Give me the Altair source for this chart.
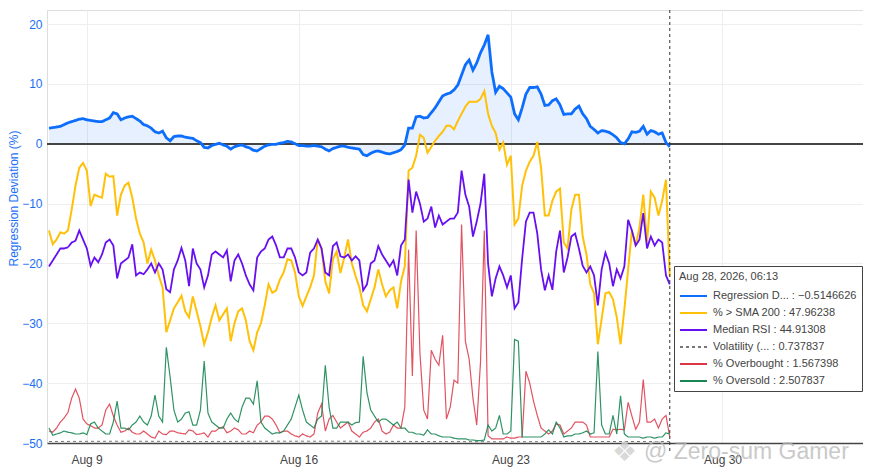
import altair as alt
import pandas as pd

# ---------------- data (plotted positions, every 3 h) ----------------
END = "2026-08-28 06:13"
N = 165
times = pd.date_range(end=END, periods=N, freq="3h")

regression_dev = [
    2.6, 2.7, 2.8, 2.9, 3.2, 3.5, 3.7, 3.9, 4.1, 4.2,
    4.0, 3.9, 3.8, 3.7, 3.7, 4.0, 4.3, 5.2, 5.0, 4.0,
    4.3, 4.5, 4.6, 4.2, 3.8, 3.2, 3.0, 2.6, 2.0, 1.8,
    2.1, 1.0, 0.5, 1.2, 1.3, 1.3, 1.1, 1.0, 0.9, 0.5,
    0.2, -0.6, -0.7, -0.3, -0.1, 0.1, -0.2, -0.4, -0.9, -0.5,
    -0.3, -0.2, -0.5, -0.7, -1.1, -1.2, -0.8, -0.4, -0.2, -0.1,
    -0.1, 0.1, 0.2, 0.4, 0.3, 0.0, -0.3, -0.3, -0.4, -0.4,
    -0.3, -0.4, -0.5, -0.9, -1.2, -0.8, -0.6, -0.4, -0.4, -0.6,
    -0.7, -0.8, -0.9, -1.8, -2.0, -1.6, -1.3, -1.2, -1.4, -1.6,
    -1.7, -1.5, -1.3, -1.0, -0.2, 2.6, 2.6, 4.5, 4.6, 4.3,
    4.4, 5.2, 6.0, 7.0, 8.0, 8.3, 8.5, 9.0, 9.8, 11.5,
    13.2, 14.0, 12.3, 13.5, 15.2, 16.5, 18.2, 12.0, 8.6, 9.6,
    9.2, 8.5, 7.8, 5.0, 4.0, 6.0, 8.3, 9.4, 9.4, 9.5,
    8.3, 6.4, 6.5, 7.2, 7.5, 6.5, 4.9, 5.0, 5.0, 5.8,
    6.3, 5.0, 4.2, 2.9, 2.4, 1.8, 2.2, 2.1, 1.9, 1.5,
    1.0, 0.2, 0.0, 0.8, 2.0, 1.9, 2.1, 2.9, 1.6, 2.2,
    2.0, 1.6, 1.8, 0.2, -0.51,
]

pct_above_sma200 = [
    -14.5, -16.8, -16.0, -14.8, -15.0, -14.5, -11.0, -7.0, -4.0, -3.2,
    -4.5, -10.4, -8.5, -8.8, -9.0, -5.0, -5.5, -5.4, -12.0, -8.5,
    -7.0, -6.5, -9.0, -12.5, -15.0, -16.5, -20.0, -17.7, -19.5, -22.0,
    -24.0, -31.5, -29.5, -27.5, -26.5, -25.4, -28.0, -29.0, -25.5, -28.0,
    -30.5, -33.5, -31.5, -29.0, -27.0, -29.5, -28.5, -27.5, -33.0, -30.0,
    -28.0, -27.5, -29.5, -33.0, -34.5, -31.5, -30.0, -27.0, -23.5, -24.9,
    -24.5, -22.7, -21.5, -19.3, -19.5, -21.5, -25.5, -27.1, -25.5, -24.0,
    -22.0, -16.0, -17.5, -23.0, -25.0, -19.3, -18.0, -21.6, -19.0, -16.0,
    -20.0, -22.1, -24.0, -27.0, -28.0, -26.0, -24.0, -21.0, -23.5, -25.5,
    -24.5, -24.0, -27.5, -23.0, -20.5, -4.5, -4.0, -2.0, 1.5, 1.0,
    -1.5, -0.5, 0.5, 1.3, 2.0, 3.0, 3.0, 2.4, 3.8, 5.0,
    6.2, 7.0, 7.0, 7.0, 7.5, 8.8, 5.0, 3.0, 1.8, -1.0,
    0.2, -3.5, -2.0, -13.5, -12.5, -7.0, -4.5, -3.0, -2.0, 0.3,
    -4.0, -12.0, -12.0, -9.5, -8.0, -7.5, -16.5, -17.5, -11.0, -8.5,
    -8.5, -15.5, -18.5, -23.5, -25.0, -33.5, -29.3, -25.0, -24.8, -26.0,
    -29.0, -33.5, -27.7, -21.0, -14.5, -17.0, -14.0, -8.5, -16.5, -8.0,
    -9.0, -12.0, -9.5, -6.0, -22.2,
]

median_rsi = [
    -20.5, -19.5, -18.5, -17.5, -17.5, -17.3, -16.5, -16.2, -14.5, -16.0,
    -17.5, -20.4, -19.0, -19.8, -18.5, -16.5, -16.0, -17.0, -22.5, -20.0,
    -19.5, -19.0, -16.8, -22.0, -21.5, -21.8, -21.0, -20.0, -21.5, -20.0,
    -21.0, -24.3, -24.8, -21.0, -19.5, -17.4, -19.5, -23.8, -17.5, -20.0,
    -21.0, -24.0, -22.0, -18.5, -18.0, -18.5, -19.0, -17.8, -23.0, -19.5,
    -18.5, -20.0, -22.0, -23.5, -24.5, -19.0, -18.0, -17.5, -16.0, -15.5,
    -17.0, -19.0, -19.0, -17.5, -17.5, -19.0, -21.5, -22.0, -21.5, -18.2,
    -17.5, -16.0, -17.5, -21.5, -22.0, -17.1, -16.5, -18.8, -19.0, -18.5,
    -19.5, -18.8, -19.5, -24.5, -23.5, -20.0, -19.5, -17.1, -18.5, -19.5,
    -20.5, -19.5, -22.0, -17.0, -16.0, -6.0, -11.5, -8.0, -10.0, -13.0,
    -12.5, -10.5, -14.0, -12.0, -13.5, -13.0, -12.5, -12.5, -11.5, -4.5,
    -8.5, -10.5, -15.5, -13.0, -10.0, -5.0, -20.0, -25.5, -22.5, -20.5,
    -22.0, -24.0, -22.0, -27.5, -26.5, -19.2, -13.0, -11.5, -11.5, -15.0,
    -21.0, -24.5, -22.0, -24.4, -18.0, -14.5, -21.5, -19.0, -15.5, -15.0,
    -17.5, -20.4, -21.5, -20.5, -22.0, -27.0, -21.0, -18.2, -20.0, -23.8,
    -21.0, -22.5, -20.5, -12.7, -14.5, -17.0, -16.0, -11.6, -17.5, -15.5,
    -17.0, -16.0, -16.5, -22.0, -23.5,
]

pct_overbought = [
    -48.0, -48.2, -47.5, -46.5, -45.8, -44.9, -42.5, -41.0, -42.5, -46.0,
    -46.8, -47.1, -47.5, -47.5, -47.0, -44.5, -43.5, -45.5, -47.0, -48.2,
    -48.0, -47.5, -48.2, -48.5, -48.5, -48.0, -48.5, -49.0, -49.2, -48.0,
    -48.5, -48.6, -48.0, -48.0, -48.3, -48.4, -48.5, -47.8, -48.0, -48.6,
    -48.5, -48.3, -49.0, -48.0, -48.0, -47.5, -47.3, -48.3, -48.0, -47.5,
    -47.8, -48.5, -48.5, -48.0, -48.3, -47.0, -46.5, -45.5, -45.5, -46.0,
    -47.0, -48.3, -48.0, -48.0, -48.5, -48.8, -49.0, -48.5, -48.8, -49.0,
    -48.5, -45.0, -43.5, -48.0, -46.0, -45.4, -46.5, -47.5, -47.0, -46.5,
    -48.0, -48.5, -49.0, -48.2, -48.0, -47.5, -46.5, -46.0, -48.0, -48.5,
    -48.2, -47.0, -47.5, -47.5, -44.0, -17.7, -38.8, -14.5, -35.0, -44.5,
    -46.0, -34.5, -36.0, -37.0, -32.0, -46.0, -44.0, -39.5, -40.0, -13.5,
    -33.0, -36.0, -42.5, -47.0, -36.5, -14.5, -48.8, -49.3, -49.3, -49.3,
    -49.3, -49.0, -49.2, -49.2, -49.0, -49.0, -38.0, -40.0, -43.0, -45.4,
    -47.5, -48.0, -48.5, -48.0, -46.8, -47.0, -48.5, -48.0, -47.5, -46.5,
    -46.5, -46.5, -47.0, -49.0, -49.0, -49.0, -49.0, -49.0, -49.0, -47.7,
    -47.8, -47.7, -47.8, -43.2, -45.5, -47.7, -46.5, -39.4, -46.5, -46.5,
    -46.0, -47.5, -46.0, -45.4, -49.0,
]

pct_oversold = [
    -47.5, -48.7, -48.5, -48.3, -48.0, -48.2, -48.3, -48.5, -48.5, -48.3,
    -48.6, -46.8, -46.5, -47.5, -48.0, -48.5, -48.5, -46.5, -43.0, -47.5,
    -47.5, -47.8, -47.0, -46.5, -45.5, -46.5, -47.0, -45.5, -42.0, -45.5,
    -46.5, -34.0, -39.0, -44.5, -46.5, -46.0, -45.0, -44.8, -47.0, -47.0,
    -44.5, -36.3, -45.0, -46.5, -47.0, -47.5, -47.5, -46.0, -45.0, -46.0,
    -46.5, -44.0, -42.5, -42.5, -43.5, -39.6, -46.5, -47.5, -48.0, -48.5,
    -48.3, -48.3, -48.0, -47.0, -46.0, -44.0, -42.0, -44.5, -46.5, -47.0,
    -47.5, -46.0, -45.5, -37.0, -44.0, -47.5, -47.5, -46.5, -46.5, -46.5,
    -47.0, -46.6, -46.5, -35.5, -41.6, -44.5, -45.5, -46.5, -46.0, -46.0,
    -46.5, -47.0, -46.5, -47.5, -47.5, -48.2, -48.2, -48.5, -48.5, -48.7,
    -47.8, -48.5, -48.5, -48.8, -49.0, -49.0, -49.0, -49.2, -49.3, -49.3,
    -49.3, -49.5, -49.5, -49.6, -49.6, -49.5, -47.0, -48.0, -47.5, -45.4,
    -48.5, -48.5, -48.0, -32.7, -33.0, -49.0, -49.0, -49.0, -49.0, -49.0,
    -49.0, -48.5, -47.8, -48.5, -46.5, -47.5, -49.0, -48.8, -48.8, -48.5,
    -48.5, -48.3, -48.0, -48.5, -48.3, -34.7, -47.0, -48.5, -48.5, -45.4,
    -48.5, -42.1, -48.5, -49.0, -49.0, -49.0, -49.0, -49.2, -49.0, -49.0,
    -49.2, -49.0, -49.0, -48.3, -48.5,
]

vol_times = ["2026-08-07 18:13", "2026-08-10 06:13", "2026-08-12 18:13",
             "2026-08-15 06:13", "2026-08-17 18:13", "2026-08-20 06:13",
             "2026-08-22 18:13", "2026-08-25 06:13", "2026-08-28 06:13"]
volatility = [-49.75, -49.7, -49.75, -49.7, -49.7, -49.75, -49.8, -49.75, -49.75]

series_names = [
    "Regression D... : \u22120.5146626",
    "% > SMA 200 : 47.96238",
    "Median RSI : 44.91308",
    "Volatility (... : 0.737837",
    "% Overbought : 1.567398",
    "% Oversold : 2.507837",
]
series_colors = ["#0d6efd", "#ffc107", "#6610f2", "#777777", "#dc3545", "#198754"]
series_dash = [[1, 0], [1, 0], [1, 0], [3, 3], [1, 0], [1, 0]]
series_widths = [2.8, 2.0, 1.8, 1.0, 1.2, 1.2]
series_opacity = [1.0, 1.0, 1.0, 1.0, 0.85, 0.9]

hover_time = "Aug 28, 2026, 06:13"
y_ticks = [-50, -40, -30, -20, -10, 0, 10, 20]
x_ticks = [alt.DateTime(year=2026, month=8, date=d) for d in (9, 16, 23, 30)]

# ---------------- tables ----------------
frames = []
for name, vals in zip(
    [series_names[0], series_names[1], series_names[2], series_names[4], series_names[5]],
    [regression_dev, pct_above_sma200, median_rsi, pct_overbought, pct_oversold],
):
    frames.append(pd.DataFrame({"time": times, "value": vals, "series": name}))
frames.append(pd.DataFrame({"time": pd.to_datetime(vol_times), "value": volatility,
                            "series": series_names[3]}))
df = pd.concat(frames, ignore_index=True)
df["time"] = df["time"].dt.strftime("%Y-%m-%dT%H:%M:%S")

blue_df = df[df["series"] == series_names[0]]
hover_df = pd.DataFrame({"time": [pd.Timestamp(END).strftime("%Y-%m-%dT%H:%M:%S")]})

x_scale = alt.Scale(domain=[alt.DateTime(year=2026, month=8, date=7, hours=16, minutes=38),
                            alt.DateTime(year=2026, month=9, date=3, hours=15, minutes=22)])
y_scale = alt.Scale(domain=[-50, 22.35], nice=False, zero=False)

x_enc = alt.X("time:T", scale=x_scale, title=None,
              axis=alt.Axis(values=x_ticks, format="%b %-d", labelColor="#444",
                            labelFontSize=12, grid=True, gridColor="#eeeeee",
                            domainColor="#444", domainWidth=1.5, ticks=False,
                            labelPadding=11, labelFont="Liberation Sans"))
y_enc = alt.Y("value:Q", scale=y_scale,
              axis=alt.Axis(values=y_ticks, format="d", labelColor="#1a6ef5",
                            labelFontSize=12, grid=True, gridColor="#eeeeee",
                            domain=False, ticks=False, labelPadding=5,
                            title="Regression Deviation (%)", titleColor="#1a6ef5",
                            titleFontSize=12, titleFontWeight="normal",
                            titleX=-27, titleY=188, labelFont="Liberation Sans",
                            titleFont="Liberation Sans"))

legend = alt.Legend(
    title=hover_time, orient="none", legendX=627, legendY=256, direction="vertical",
    symbolType="M-1,0H4.4", symbolSize=100, symbolStrokeWidth=2,
    labelFontSize=11, labelColor="#444", labelFont="Liberation Sans",
    titleFontSize=11, titleFontWeight="normal", titleColor="#444",
    titleFont="Liberation Sans", padding=5, strokeColor="#444", fillColor="white",
    rowPadding=6, labelOffset=22, labelLimit=400, titleLimit=400, titlePadding=8,
)
color_enc = alt.Color("series:N", scale=alt.Scale(domain=series_names, range=series_colors),
                      legend=legend)
dash_enc = alt.StrokeDash("series:N", scale=alt.Scale(domain=series_names, range=series_dash),
                          legend=legend)

base = alt.Chart(df)

area = alt.Chart(blue_df).mark_area(color="#0d6efd", opacity=0.1).encode(
    x=x_enc, y=y_enc, y2=alt.datum(0)
)
zero = alt.Chart(blue_df).mark_rule(color="#444", strokeWidth=1).encode(y=alt.datum(0))

line_layers = []
for name, w, op in zip(series_names, series_widths, series_opacity):
    line_layers.append(
        base.transform_filter(alt.datum.series == name)
        .mark_line(strokeWidth=w, opacity=op)
        .encode(x=x_enc, y=y_enc, color=color_enc, strokeDash=dash_enc)
    )

spike = alt.Chart(hover_df).mark_rule(color="#333", strokeWidth=1, strokeDash=[3, 3]).encode(
    x=alt.X("time:T", scale=x_scale), y=alt.value(0), y2=alt.value(443)
)

logo = alt.Chart(hover_df).mark_text(
    text="\u2756", align="left", baseline="middle", fontSize=28,
    font="DejaVu Sans", color="#d0d0d0", opacity=0.8
).encode(x=alt.value(565), y=alt.value(443))

watermark = alt.Chart(hover_df).mark_text(
    text="@ Zero-sum Gamer", align="left", baseline="middle", fontSize=23,
    font="Liberation Sans", color="#b8b8b8", opacity=0.75
).encode(x=alt.value(597), y=alt.value(442))

chart = alt.layer(area, zero, *line_layers, spike, logo, watermark).properties(
    width=816, height=433,
    padding={"left": 39, "top": 2, "right": 0, "bottom": 25},
    autosize=alt.AutoSizeParams(type="none"),
).configure_view(strokeWidth=0).configure(font="Liberation Sans")

chart.save("out.html", embed_options={"renderer": "svg", "actions": False})
